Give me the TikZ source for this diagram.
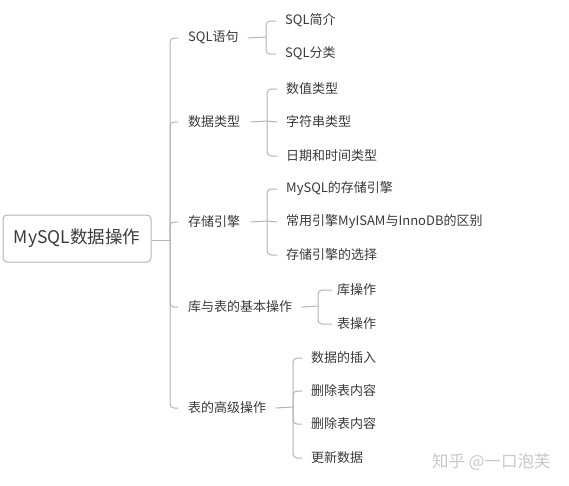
\documentclass[tikz,border=0pt]{standalone}
\usepackage{fontspec}
\setmainfont{Noto Sans CJK SC}
\definecolor{txt}{HTML}{3A3A3A}
\definecolor{ln}{HTML}{B4B4B4}
\definecolor{wm}{HTML}{C8C8C8}
\begin{document}
\begin{tikzpicture}[x=1pt,y=-1pt,
  lvl/.style={anchor=west,inner sep=0pt,text=txt,font=\fontsize{13}{15}\selectfont},
  link/.style={draw=ln,line width=1pt,rounded corners=4pt},
  rootbox/.style={draw=ln,line width=1pt,rounded corners=4pt,minimum width=148pt,minimum height=47pt,inner sep=0pt,text=txt,font=\fontsize{17.5}{20}\selectfont}]
\path[fill=white] (0,0) rectangle (569,485);
\useasboundingbox (0,0) rectangle (569,485);
% root
\node[rootbox] (root) at (77,238.5) {MySQL数据操作};
\coordinate (T) at (170,240);
% level 1
\node[lvl] (a) at (188,37.5) {SQL语句};
\node[lvl] (b) at (188,121.5) {数据类型};
\node[lvl] (c) at (188,221.5) {存储引擎};
\node[lvl] (d) at (188,306.5) {库与表的基本操作};
\node[lvl] (e) at (188,407.5) {表的高级操作};
% brackets
\coordinate (ba) at (266,37);
\coordinate (bb) at (267,121);
\coordinate (bc) at (267,221);
\coordinate (bd) at (318,306);
\coordinate (be) at (293,407);
% level 2
\node[lvl] (a1) at (285,20.5) {SQL简介};
\node[lvl] (a2) at (285,53.5) {SQL分类};
\node[lvl] (b1) at (286,88.5) {数值类型};
\node[lvl] (b2) at (286,121.5) {字符串类型};
\node[lvl] (b3) at (286,155.5) {日期和时间类型};
\node[lvl] (c1) at (286,188.5) {MySQL的存储引擎};
\node[lvl] (c2) at (286,221.5) {常用引擎MyISAM与InnoDB的区别};
\node[lvl] (c3) at (286,254.5) {存储引擎的选择};
\node[lvl] (d1) at (337,289.5) {库操作};
\node[lvl] (d2) at (337,323.5) {表操作};
\node[lvl] (e1) at (311,357.5) {数据的插入};
\node[lvl] (e2) at (311,390.5) {删除表内容};
\node[lvl] (e3) at (311,423.5) {删除表内容};
\node[lvl] (e4) at (311,457.5) {更新数据};
% root connectors
\draw[link] (root.east |- T) -- (T);
\foreach \n in {a,b,c,d,e}
  \draw[link] (T) |- ([xshift=-10pt,yshift=-0.5pt]\n.west);
% level 1 connectors
\draw[link] ([xshift=9pt,yshift=-0.5pt]a.east) -- (ba);
\draw[link] ([xshift=10pt,yshift=-0.5pt]b.east) -- (bb);
\draw[link] ([xshift=10pt,yshift=-0.5pt]c.east) -- (bc);
\draw[link] ([xshift=9pt,yshift=-0.5pt]d.east) -- (bd);
\draw[link] ([xshift=9pt,yshift=-0.5pt]e.east) -- (be);
\foreach \n in {a1,a2} \draw[link] (ba) |- ([xshift=-9pt,yshift=-0.5pt]\n.west);
\foreach \n in {b1,b3} \draw[link] (bb) |- ([xshift=-9pt,yshift=-0.5pt]\n.west);
\draw[link] (bb) -- ([xshift=-9pt,yshift=-0.5pt]b2.west);
\foreach \n in {c1,c3} \draw[link] (bc) |- ([xshift=-9pt,yshift=-0.5pt]\n.west);
\draw[link] (bc) -- ([xshift=-9pt,yshift=-0.5pt]c2.west);
\foreach \n in {d1,d2} \draw[link] (bd) |- ([xshift=-5pt,yshift=-0.5pt]\n.west);
\foreach \n in {e1,e2,e3,e4} \draw[link] (be) |- ([xshift=-9pt,yshift=-0.5pt]\n.west);
% watermark
\node[anchor=west,inner sep=0pt,text=wm,font=\fontsize{16.5}{18}\selectfont] (wm) at (432,462) {知乎 @一口泡芙};
\end{tikzpicture}
\end{document}
